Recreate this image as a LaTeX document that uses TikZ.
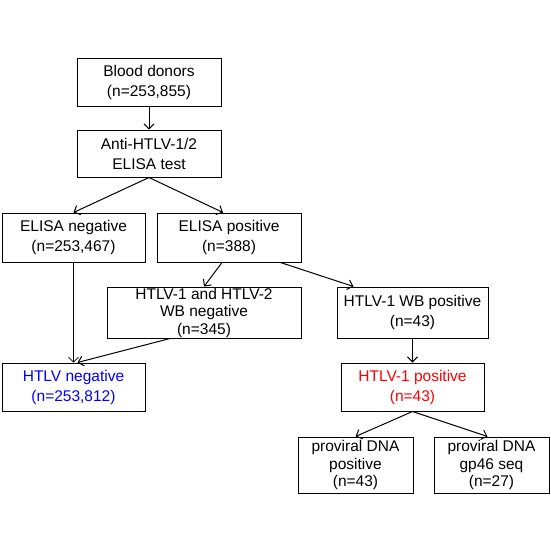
\documentclass[tikz,border=0pt]{standalone}
\usepackage{fontspec}
\setmainfont{Liberation Sans}
\usetikzlibrary{arrows.meta}

\begin{document}
\begin{tikzpicture}[
  x=1pt, y=-1pt,
  box/.style={draw, line width=1pt, align=center, inner sep=0pt,
    font=\fontsize{15.5}{20}\selectfont},
  three/.style={box, font=\fontsize{15.5}{17.5}\selectfont},
  link/.style={-{Straight Barb[length=5pt,width=10pt]}, line width=1pt},
  thin link/.style={link, line width=.6pt}]

  \useasboundingbox (0,0) rectangle (550,550);

  \node[box, minimum width=144, minimum height=48](donors) at (149,82)
    {Blood donors\\(n=253,855)};
  \node[box, minimum width=144, minimum height=47](elisa) at (149,153.5)
    {Anti-HTLV-1/2\\ELISA test};
  \node[box, minimum width=143, minimum height=49](neg) at (73.5,237.5)
    {ELISA negative\\(n=253,467)};
  \node[box, minimum width=144, minimum height=49](pos) at (229,237.5)
    {ELISA positive\\(n=388)};
  \node[three, minimum width=194, minimum height=51](wbneg) at (204,312.5)
    {HTLV-1 and HTLV-2\\WB negative\\(n=345)};
  \node[box, minimum width=151, minimum height=51](wbpos) at (412.5,312.5)
    {HTLV-1 WB positive\\(n=43)};
  \node[box, minimum width=143, minimum height=48, text=blue](htlvneg) at (73.5,387)
    {HTLV negative\\(n=253,812)};
  \node[box, minimum width=143, minimum height=48, text=red](htlvpos) at (412.5,387)
    {HTLV-1 positive\\(n=43)};
  \node[three, minimum width=115, minimum height=56](dnapos) at (355.5,465)
    {proviral DNA\\positive\\(n=43)};
  \node[three, minimum width=115, minimum height=56](gpseq) at (491.5,465)
    {proviral DNA\\gp46 seq\\(n=27)};

  \draw[link] (donors) -- (elisa);
  \draw[link] (elisa.south) -- (neg.north);
  \draw[link] (elisa.south) -- ([xshift=-6pt]pos.north);
  \draw[link] ([xshift=-7pt]pos.south) -- (wbneg.north);
  \draw[link] ([xshift=-21pt]pos.south east) -- ([xshift=17pt]wbpos.north west);
  \draw[thin link] (neg.south) -- (htlvneg.north);
  \draw[link] ([xshift=-34pt]wbneg.south) -- ([xshift=4pt]htlvneg.north);
  \draw[link] (wbpos) -- (htlvpos);
  \draw[link] (htlvpos.south) -- (dnapos.north);
  \draw[link] (htlvpos.south) -- ([xshift=-4pt]gpseq.north);
\end{tikzpicture}
\end{document}
